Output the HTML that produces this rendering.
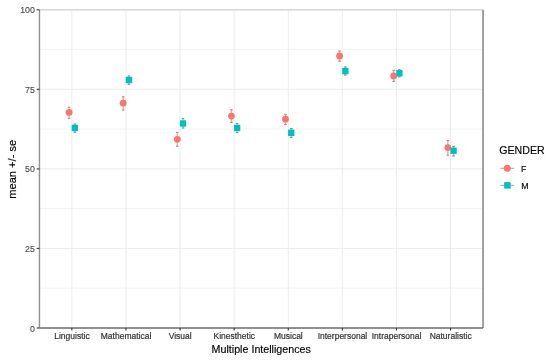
<!DOCTYPE html><html><head><meta charset="utf-8"><style>html,body{margin:0;padding:0;background:#fff;}svg{display:block;}text{font-family:"Liberation Sans",Arial,sans-serif;}.tl{fill:#333;stroke:#333;stroke-width:0.2px;}.yl{fill:#4a4a4a;stroke:#4a4a4a;stroke-width:0.12px;}.tt{fill:#000;stroke:#000;stroke-width:0.15px;}</style></head><body>
<svg width="550" height="360" viewBox="0 0 550 360">
<rect x="0" y="0" width="550" height="360" fill="#fff"/>
<line x1="39.4" x2="483.05" y1="288.23" y2="288.23" stroke="#f0f0f0" stroke-width="0.8"/>
<line x1="39.4" x2="483.05" y1="208.68" y2="208.68" stroke="#f0f0f0" stroke-width="0.8"/>
<line x1="39.4" x2="483.05" y1="129.12" y2="129.12" stroke="#f0f0f0" stroke-width="0.8"/>
<line x1="39.4" x2="483.05" y1="49.57" y2="49.57" stroke="#f0f0f0" stroke-width="0.8"/>
<line x1="39.4" x2="483.05" y1="328.00" y2="328.00" stroke="#ececec" stroke-width="1.0"/>
<line x1="39.4" x2="483.05" y1="248.45" y2="248.45" stroke="#ececec" stroke-width="1.0"/>
<line x1="39.4" x2="483.05" y1="168.90" y2="168.90" stroke="#ececec" stroke-width="1.0"/>
<line x1="39.4" x2="483.05" y1="89.35" y2="89.35" stroke="#ececec" stroke-width="1.0"/>
<line x1="39.4" x2="483.05" y1="9.80" y2="9.80" stroke="#ececec" stroke-width="1.0"/>
<line x1="71.85" x2="71.85" y1="9.8" y2="328.0" stroke="#ececec" stroke-width="1.0"/>
<line x1="125.95" x2="125.95" y1="9.8" y2="328.0" stroke="#ececec" stroke-width="1.0"/>
<line x1="180.05" x2="180.05" y1="9.8" y2="328.0" stroke="#ececec" stroke-width="1.0"/>
<line x1="234.15" x2="234.15" y1="9.8" y2="328.0" stroke="#ececec" stroke-width="1.0"/>
<line x1="288.25" x2="288.25" y1="9.8" y2="328.0" stroke="#ececec" stroke-width="1.0"/>
<line x1="342.35" x2="342.35" y1="9.8" y2="328.0" stroke="#ececec" stroke-width="1.0"/>
<line x1="396.45" x2="396.45" y1="9.8" y2="328.0" stroke="#ececec" stroke-width="1.0"/>
<line x1="450.55" x2="450.55" y1="9.8" y2="328.0" stroke="#ececec" stroke-width="1.0"/>
<line x1="39.4" x2="483.05" y1="9.8" y2="9.8" stroke="#d8d8d8" stroke-width="1.5"/>
<line x1="483.05" x2="483.05" y1="9.8" y2="328.0" stroke="#7a7a7a" stroke-width="1.4"/>
<line x1="39.4" x2="483.05" y1="328.0" y2="328.0" stroke="#6e6e6e" stroke-width="1.4"/>
<line x1="39.449999999999996" x2="39.449999999999996" y1="9.8" y2="328.0" stroke="#939393" stroke-width="1.45"/>
<line x1="36.699999999999996" x2="39.4" y1="328.00" y2="328.00" stroke="#3a3a3a" stroke-width="1.15"/>
<text x="34.9" y="331.50" font-size="8.8" class="tl yl" text-anchor="end">0</text>
<line x1="36.699999999999996" x2="39.4" y1="248.45" y2="248.45" stroke="#3a3a3a" stroke-width="1.15"/>
<text x="34.9" y="251.95" font-size="8.8" class="tl yl" text-anchor="end">25</text>
<line x1="36.699999999999996" x2="39.4" y1="168.90" y2="168.90" stroke="#3a3a3a" stroke-width="1.15"/>
<text x="34.9" y="172.40" font-size="8.8" class="tl yl" text-anchor="end">50</text>
<line x1="36.699999999999996" x2="39.4" y1="89.35" y2="89.35" stroke="#3a3a3a" stroke-width="1.15"/>
<text x="34.9" y="92.85" font-size="8.8" class="tl yl" text-anchor="end">75</text>
<line x1="36.699999999999996" x2="39.4" y1="9.80" y2="9.80" stroke="#3a3a3a" stroke-width="1.15"/>
<text x="34.9" y="13.30" font-size="8.8" class="tl yl" text-anchor="end">100</text>
<line x1="71.85" x2="71.85" y1="328.0" y2="330.5" stroke="#3a3a3a" stroke-width="1.15"/>
<text x="0" y="0" font-size="8.5" class="tl" text-anchor="middle" transform="translate(71.95,338.75) scale(1,1.07)">Linguistic</text>
<line x1="125.95" x2="125.95" y1="328.0" y2="330.5" stroke="#3a3a3a" stroke-width="1.15"/>
<text x="0" y="0" font-size="8.5" class="tl" text-anchor="middle" transform="translate(126.05,338.75) scale(1,1.07)">Mathematical</text>
<line x1="180.05" x2="180.05" y1="328.0" y2="330.5" stroke="#3a3a3a" stroke-width="1.15"/>
<text x="0" y="0" font-size="8.5" class="tl" text-anchor="middle" transform="translate(180.15,338.75) scale(1,1.07)">Visual</text>
<line x1="234.15" x2="234.15" y1="328.0" y2="330.5" stroke="#3a3a3a" stroke-width="1.15"/>
<text x="0" y="0" font-size="8.5" class="tl" text-anchor="middle" transform="translate(234.25,338.75) scale(1,1.07)">Kinesthetic</text>
<line x1="288.25" x2="288.25" y1="328.0" y2="330.5" stroke="#3a3a3a" stroke-width="1.15"/>
<text x="0" y="0" font-size="8.5" class="tl" text-anchor="middle" transform="translate(288.35,338.75) scale(1,1.07)">Musical</text>
<line x1="342.35" x2="342.35" y1="328.0" y2="330.5" stroke="#3a3a3a" stroke-width="1.15"/>
<text x="0" y="0" font-size="8.5" class="tl" text-anchor="middle" transform="translate(342.45,338.75) scale(1,1.07)">Interpersonal</text>
<line x1="396.45" x2="396.45" y1="328.0" y2="330.5" stroke="#3a3a3a" stroke-width="1.15"/>
<text x="0" y="0" font-size="8.5" class="tl" text-anchor="middle" transform="translate(396.55,338.75) scale(1,1.07)">Intrapersonal</text>
<line x1="450.55" x2="450.55" y1="328.0" y2="330.5" stroke="#3a3a3a" stroke-width="1.15"/>
<text x="0" y="0" font-size="8.5" class="tl" text-anchor="middle" transform="translate(450.65,338.75) scale(1,1.07)">Naturalistic</text>
<text x="261.23" y="352.7" font-size="10.7" class="tt" text-anchor="middle">Multiple Intelligences</text>
<text x="0" y="0" font-size="11.1" class="tt" text-anchor="middle" transform="translate(15.9,169.3) rotate(-90)">mean +/- se</text>
<line x1="69.10" x2="69.10" y1="107.2" y2="118.3" stroke="#EFA9A6" stroke-width="1.3"/><g stroke="#C47F85" stroke-width="1.1"><line x1="67.80" x2="70.40" y1="107.2" y2="107.2"/><line x1="67.80" x2="70.40" y1="118.3" y2="118.3"/></g>
<circle cx="69.10" cy="112.4" r="3.4" fill="#F8766D"/>
<line x1="123.20" x2="123.20" y1="96.8" y2="110.0" stroke="#EFA9A6" stroke-width="1.3"/><g stroke="#C47F85" stroke-width="1.1"><line x1="121.90" x2="124.50" y1="96.8" y2="96.8"/><line x1="121.90" x2="124.50" y1="110.0" y2="110.0"/></g>
<circle cx="123.20" cy="103.2" r="3.4" fill="#F8766D"/>
<line x1="177.30" x2="177.30" y1="132.4" y2="146.2" stroke="#EFA9A6" stroke-width="1.3"/><g stroke="#C47F85" stroke-width="1.1"><line x1="176.00" x2="178.60" y1="132.4" y2="132.4"/><line x1="176.00" x2="178.60" y1="146.2" y2="146.2"/></g>
<circle cx="177.30" cy="139.3" r="3.4" fill="#F8766D"/>
<line x1="231.40" x2="231.40" y1="109.8" y2="122.4" stroke="#EFA9A6" stroke-width="1.3"/><g stroke="#C47F85" stroke-width="1.1"><line x1="230.10" x2="232.70" y1="109.8" y2="109.8"/><line x1="230.10" x2="232.70" y1="122.4" y2="122.4"/></g>
<circle cx="231.40" cy="116.1" r="3.4" fill="#F8766D"/>
<line x1="285.50" x2="285.50" y1="114.3" y2="124.6" stroke="#EFA9A6" stroke-width="1.3"/><g stroke="#C47F85" stroke-width="1.1"><line x1="284.20" x2="286.80" y1="114.3" y2="114.3"/><line x1="284.20" x2="286.80" y1="124.6" y2="124.6"/></g>
<circle cx="285.50" cy="119.2" r="3.4" fill="#F8766D"/>
<line x1="339.60" x2="339.60" y1="51.0" y2="61.3" stroke="#EFA9A6" stroke-width="1.3"/><g stroke="#C47F85" stroke-width="1.1"><line x1="338.30" x2="340.90" y1="51.0" y2="51.0"/><line x1="338.30" x2="340.90" y1="61.3" y2="61.3"/></g>
<circle cx="339.60" cy="56.0" r="3.4" fill="#F8766D"/>
<line x1="393.70" x2="393.70" y1="70.3" y2="81.4" stroke="#EFA9A6" stroke-width="1.3"/><g stroke="#C47F85" stroke-width="1.1"><line x1="392.40" x2="395.00" y1="70.3" y2="70.3"/><line x1="392.40" x2="395.00" y1="81.4" y2="81.4"/></g>
<circle cx="393.70" cy="76.0" r="3.4" fill="#F8766D"/>
<line x1="447.80" x2="447.80" y1="140.5" y2="155.2" stroke="#EFA9A6" stroke-width="1.3"/><g stroke="#C47F85" stroke-width="1.1"><line x1="446.50" x2="449.10" y1="140.5" y2="140.5"/><line x1="446.50" x2="449.10" y1="155.2" y2="155.2"/></g>
<circle cx="447.80" cy="147.6" r="3.4" fill="#F8766D"/>
<line x1="74.85" x2="74.85" y1="124.0" y2="132.2" stroke="#8FD3D5" stroke-width="1.3"/><g stroke="#459EA2" stroke-width="1.1"><line x1="73.55" x2="76.15" y1="124.0" y2="124.0"/><line x1="73.55" x2="76.15" y1="132.2" y2="132.2"/></g>
<rect x="71.70" y="124.80" width="6.3" height="6.4" fill="#00BFC4"/>
<line x1="128.95" x2="128.95" y1="76.0" y2="84.3" stroke="#8FD3D5" stroke-width="1.3"/><g stroke="#459EA2" stroke-width="1.1"><line x1="127.65" x2="130.25" y1="76.0" y2="76.0"/><line x1="127.65" x2="130.25" y1="84.3" y2="84.3"/></g>
<rect x="125.80" y="76.80" width="6.3" height="6.4" fill="#00BFC4"/>
<line x1="183.05" x2="183.05" y1="118.6" y2="128.0" stroke="#8FD3D5" stroke-width="1.3"/><g stroke="#459EA2" stroke-width="1.1"><line x1="181.75" x2="184.35" y1="118.6" y2="118.6"/><line x1="181.75" x2="184.35" y1="128.0" y2="128.0"/></g>
<rect x="179.90" y="120.30" width="6.3" height="6.4" fill="#00BFC4"/>
<line x1="237.15" x2="237.15" y1="123.5" y2="132.6" stroke="#8FD3D5" stroke-width="1.3"/><g stroke="#459EA2" stroke-width="1.1"><line x1="235.85" x2="238.45" y1="123.5" y2="123.5"/><line x1="235.85" x2="238.45" y1="132.6" y2="132.6"/></g>
<rect x="234.00" y="124.80" width="6.3" height="6.4" fill="#00BFC4"/>
<line x1="291.25" x2="291.25" y1="128.6" y2="137.4" stroke="#8FD3D5" stroke-width="1.3"/><g stroke="#459EA2" stroke-width="1.1"><line x1="289.95" x2="292.55" y1="128.6" y2="128.6"/><line x1="289.95" x2="292.55" y1="137.4" y2="137.4"/></g>
<rect x="288.10" y="129.60" width="6.3" height="6.4" fill="#00BFC4"/>
<line x1="345.35" x2="345.35" y1="67.0" y2="75.0" stroke="#8FD3D5" stroke-width="1.3"/><g stroke="#459EA2" stroke-width="1.1"><line x1="344.05" x2="346.65" y1="67.0" y2="67.0"/><line x1="344.05" x2="346.65" y1="75.0" y2="75.0"/></g>
<rect x="342.20" y="67.90" width="6.3" height="6.4" fill="#00BFC4"/>
<line x1="399.45" x2="399.45" y1="69.8" y2="76.8" stroke="#8FD3D5" stroke-width="1.3"/><g stroke="#459EA2" stroke-width="1.1"><line x1="398.15" x2="400.75" y1="69.8" y2="69.8"/><line x1="398.15" x2="400.75" y1="76.8" y2="76.8"/></g>
<rect x="396.30" y="70.00" width="6.3" height="6.4" fill="#00BFC4"/>
<line x1="453.55" x2="453.55" y1="146.3" y2="156.0" stroke="#8FD3D5" stroke-width="1.3"/><g stroke="#459EA2" stroke-width="1.1"><line x1="452.25" x2="454.85" y1="146.3" y2="146.3"/><line x1="452.25" x2="454.85" y1="156.0" y2="156.0"/></g>
<rect x="450.40" y="147.50" width="6.3" height="6.4" fill="#00BFC4"/>
<text x="499.3" y="153.8" font-size="10.6" class="tt">GENDER</text>
<line x1="500.3" x2="514.2" y1="168.35" y2="168.35" stroke="#D6A3A1" stroke-width="1.1"/>
<circle cx="507.3" cy="168.35" r="3.5" fill="#F8766D"/>
<line x1="500.3" x2="514.2" y1="185.35" y2="185.35" stroke="#8FBABB" stroke-width="1.1"/>
<rect x="504.15" y="182.1" width="6.5" height="6.5" fill="#00BFC4"/>
<text x="521.0" y="171.7" font-size="8.8" class="tt">F</text>
<text x="521.3" y="188.6" font-size="8.8" class="tt">M</text>
</svg></body></html>
